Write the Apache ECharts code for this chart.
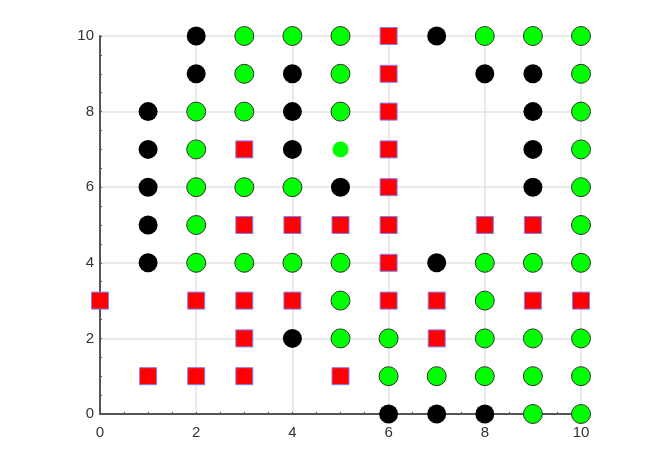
<!DOCTYPE html>
<html>
<head>
<meta charset="utf-8">
<script src="https://cdn.jsdelivr.net/npm/echarts@6/dist/echarts.min.js"></script>
<style>html,body{margin:0;padding:0;background:#fff}#c{width:667px;height:463px}</style>
</head>
<body>
<div id="c"></div>
<script>
var blackPoints = [[2,10],[7,10],[2,9],[4,9],[8,9],[9,9],[1,8],[4,8],[9,8],[1,7],[4,7],[9,7],[1,6],[5,6],[9,6],[1,5],[1,4],[7,4],[4,2],[6,0],[7,0],[8,0]];
var greenPoints = [[3,10],[4,10],[5,10],[8,10],[9,10],[10,10],[3,9],[5,9],[10,9],[2,8],[3,8],[5,8],[10,8],[2,7],[10,7],[2,6],[3,6],[4,6],[10,6],[2,5],[10,5],[2,4],[3,4],[4,4],[5,4],[8,4],[9,4],[10,4],[5,3],[8,3],[5,2],[6,2],[8,2],[9,2],[10,2],[6,1],[7,1],[8,1],[9,1],[10,1],[9,0],[10,0]];
var redPoints = [[6,10],[6,9],[6,8],[3,7],[6,7],[6,6],[3,5],[4,5],[5,5],[6,5],[8,5],[9,5],[6,4],[0,3],[2,3],[3,3],[4,3],[6,3],[7,3],[9,3],[10,3],[3,2],[7,2],[1,1],[2,1],[3,1],[5,1]];
var smallGreenPoints = [[5,7]];
var xTicks = [0,2,4,6,8,10];
var yTicks = [0,2,4,6,8,10];

var chart = echarts.init(document.getElementById('c'));
var axisCommon = {
  min: 0, max: 10, interval: 2,
  axisLine: {show: true, onZero: false, lineStyle: {color: '#555', width: 2}},
  axisTick: {show: true, inside: true, length: 2, lineStyle: {color: '#555'}},
  minorTick: {show: true, splitNumber: 4, length: 2, lineStyle: {color: '#555'}},
  splitLine: {show: true, lineStyle: {color: '#e3e3e3', width: 1.5}},
  axisLabel: {color: '#333', fontSize: 15, fontFamily: 'Liberation Sans, Arial, sans-serif'}
};
chart.setOption({
  animation: false,
  grid: {left: 100, right: 86, top: 36, bottom: 49, containLabel: false},
  xAxis: Object.assign({type: 'value'}, axisCommon, {axisLabel: Object.assign({}, axisCommon.axisLabel, {margin: 11, formatter: function(v){return xTicks.indexOf(v)>=0? String(v):'';}})}),
  yAxis: Object.assign({type: 'value'}, axisCommon, {axisLabel: Object.assign({}, axisCommon.axisLabel, {margin: 6, formatter: function(v){return yTicks.indexOf(v)>=0? String(v):'';}})}),
  series: [
    {type: 'scatter', data: greenPoints, symbol: 'circle', symbolSize: 19, itemStyle: {color: '#00ff00', borderColor: '#333', borderWidth: 1, opacity: 1}, z: 3},
    {type: 'scatter', data: blackPoints, symbol: 'circle', symbolSize: 19, itemStyle: {color: '#000', opacity: 1}, z: 3},
    {type: 'scatter', data: redPoints, symbol: 'rect', symbolSize: 17, itemStyle: {color: '#ff0000', borderColor: '#7f7fff', borderWidth: 1, opacity: 1}, z: 3},
    {type: 'scatter', data: smallGreenPoints, symbol: 'circle', symbolSize: 16, itemStyle: {color: '#00ff00', opacity: 1}, z: 3}
  ]
});
</script>
</body>
</html>
